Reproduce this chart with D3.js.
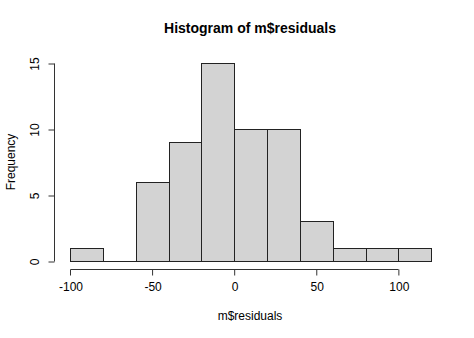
<!DOCTYPE html>
<html lang="en">
<head>
<meta charset="UTF-8">
<script src="https://d3js.org/d3.v7.min.js"></script>
<title>Histogram of m$residuals</title>
<style>
  body { margin: 0; background: #fff; }
  text { font-family: "Liberation Sans", Arial, sans-serif; fill: #000; }
</style>
</head>
<body>
<div id="chart"></div>
<script>
// bin edges and counts
var binStart = [-100, -80, -60, -40, -20, 0, 20, 40, 60, 80, 100];
var binEnd   = [-80, -60, -40, -20, 0, 20, 40, 60, 80, 100, 120];
var counts   = [1, 0, 6, 9, 15, 10, 10, 3, 1, 1, 1];
var xTicks = [-100, -50, 0, 50, 100];
var yTicks = [0, 5, 10, 15];

var width = 474, height = 338;

var svg = d3.select("#chart").append("svg")
    .attr("width", width)
    .attr("height", height);

var x = d3.scaleLinear().domain([-100, 120]).range([70, 431.2]);
var y = d3.scaleLinear().domain([0, 15]).range([261, 63]);

// bars
svg.selectAll("rect.bar")
    .data(counts)
    .enter()
    .append("rect")
    .attr("class", "bar")
    .attr("x", function (d, i) { return Math.round(x(binStart[i])) + 0.5; })
    .attr("y", function (d) { return Math.round(y(d)) + 0.5; })
    .attr("width", function (d, i) { return Math.round(x(binEnd[i])) - Math.round(x(binStart[i])); })
    .attr("height", function (d) { return Math.round(y(0)) - Math.round(y(d)); })
    .attr("fill", "#d3d3d3")
    .attr("stroke", "#222")
    .attr("stroke-width", 1);

// empty bins still show their bottom edge
svg.selectAll("line.zero")
    .data(counts.map(function (d, i) { return i; }).filter(function (i) { return counts[i] === 0; }))
    .enter()
    .append("line")
    .attr("class", "zero")
    .attr("x1", function (i) { return Math.round(x(binStart[i])) + 0.5; })
    .attr("x2", function (i) { return Math.round(x(binEnd[i])) + 0.5; })
    .attr("y1", Math.round(y(0)) + 0.5)
    .attr("y2", Math.round(y(0)) + 0.5)
    .attr("stroke", "#222");

// x axis
var xAxis = svg.append("g")
    .attr("transform", "translate(0.5,269.5)")
    .call(d3.axisBottom(x).tickValues(xTicks).tickSizeOuter(0).tickSize(6).tickPadding(7)
        .tickFormat(function (d) { return d < 0 ? "-" + Math.abs(d) : d; }));
xAxis.select(".domain").remove();
xAxis.append("line")
    .attr("x1", Math.round(x(xTicks[0])))
    .attr("x2", Math.round(x(xTicks[xTicks.length - 1])))
    .attr("stroke", "#333");
xAxis.selectAll(".tick line").attr("stroke", "#333")
    .attr("transform", "translate(-0.5,0)");
xAxis.selectAll(".tick text").style("font-size", "12px").style("font-family", "Liberation Sans, Arial, sans-serif");

// y axis
var yAxis = svg.append("g")
    .attr("transform", "translate(54.5,0.5)")
    .call(d3.axisLeft(y).tickValues(yTicks).tickSizeOuter(0).tickSize(6).tickFormat(d3.format("d")));
yAxis.select(".domain").remove();
yAxis.append("line")
    .attr("y1", Math.round(y(yTicks[0])))
    .attr("y2", Math.round(y(yTicks[yTicks.length - 1])))
    .attr("stroke", "#333");
yAxis.selectAll(".tick line").attr("stroke", "#333");
yAxis.selectAll(".tick text")
    .style("font-size", "12px")
    .style("font-family", "Liberation Sans, Arial, sans-serif")
    .attr("x", null).attr("dy", null)
    .attr("text-anchor", "middle")
    .attr("transform", "translate(-16,0) rotate(-90)");

// titles
svg.append("text")
    .attr("x", 250)
    .attr("y", 33)
    .attr("text-anchor", "middle")
    .style("font-size", "14px")
    .style("font-weight", "bold")
    .text("Histogram of m$residuals");

svg.append("text")
    .attr("x", 250)
    .attr("y", 320)
    .attr("text-anchor", "middle")
    .style("font-size", "12px")
    .text("m$residuals");

svg.append("text")
    .attr("transform", "translate(15,162) rotate(-90)")
    .attr("text-anchor", "middle")
    .style("font-size", "12px")
    .text("Frequency");
</script>
</body>
</html>
